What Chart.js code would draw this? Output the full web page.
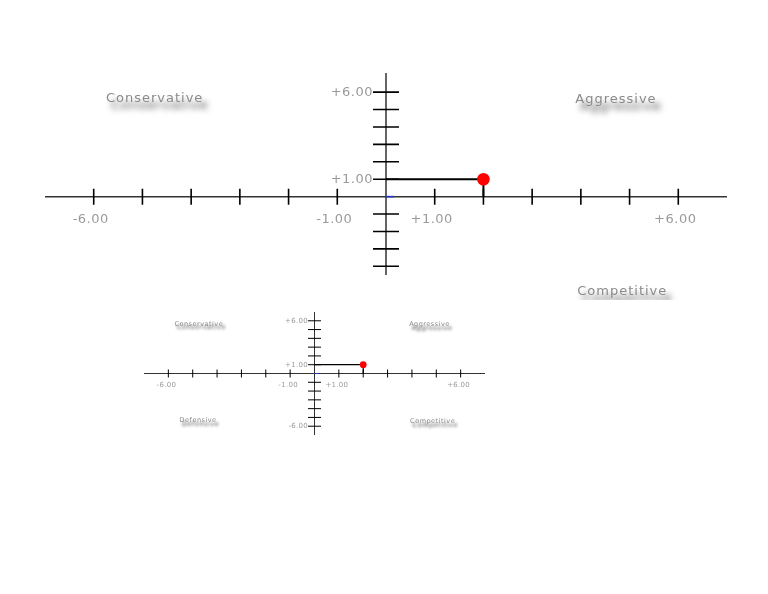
<!DOCTYPE html>
<html>
<head>
<meta charset="utf-8">
<title>SPACE matrix</title>
<script src="https://cdn.jsdelivr.net/npm/chart.js@4.4.1/dist/chart.umd.min.js"></script>
<style>
  body { margin: 0; background: #fff; }
  #page { position: relative; width: 768px; height: 594px; overflow: hidden; }
  canvas { position: absolute; left: 0; }
  #big { top: 0; }
  #small { top: 300px; }
</style>
</head>
<body>
<div id="page">
  <canvas id="big" width="768" height="300"></canvas>
  <canvas id="small" width="768" height="294"></canvas>
</div>
<script>
// Data
const quadrants = ['Conservative', 'Aggressive', 'Defensive', 'Competitive'];
const pointX = [2];   // horizontal score
const pointY = [1];   // vertical score
const tickValues = [-6, -5, -4, -3, -2, -1, 1, 2, 3, 4, 5, 6];
const labelledX = [-6, -1, 1, 6];
const labelledY = [6, 1, -6];

// where each quadrant name sits, in axis units
const quadrantAnchors = {
    Conservative: [-4.75, 5.65],
    Aggressive: [4.72, 5.55],
    Defensive: [-4.78, -5.35],
    Competitive: [4.85, -5.45]
};

function fmt(v) {
    return (v > 0 ? '+' : '') + v.toFixed(2);
}

// draws the cross-shaped axes through the origin, using the chart scales
const crossAxes = {
    id: 'crossAxes',
    beforeDatasetsDraw(chart, args, o) {
        const ctx = chart.ctx;
        const xs = chart.scales.x, ys = chart.scales.y;
        const area = chart.chartArea;
        const ox = xs.getPixelForValue(0), oy = ys.getPixelForValue(0);
        ctx.save();

        // axis lines
        ctx.strokeStyle = '#333';
        ctx.lineWidth = o.axisWidth;
        ctx.beginPath();
        ctx.moveTo(area.left, oy); ctx.lineTo(area.right, oy);
        ctx.moveTo(ox, area.top); ctx.lineTo(ox, area.bottom);
        ctx.stroke();

        // tick marks
        ctx.strokeStyle = '#000';
        ctx.lineWidth = o.tickWidth;
        ctx.beginPath();
        tickValues.forEach(v => {
            const px = xs.getPixelForValue(v);
            ctx.moveTo(px, oy - o.xTick); ctx.lineTo(px, oy + o.xTick);
            if (v >= ys.min && v <= ys.max) {
                const py = ys.getPixelForValue(v);
                ctx.moveTo(ox - o.yTick, py); ctx.lineTo(ox + o.yTick, py);
            }
        });
        ctx.stroke();

        // little blue mark at the origin
        ctx.strokeStyle = '#2233cc';
        ctx.lineWidth = o.tickWidth;
        ctx.beginPath();
        ctx.moveTo(ox, oy); ctx.lineTo(ox + o.xTick, oy);
        ctx.stroke();

        // tick labels
        ctx.fillStyle = '#9a9a9a';
        ctx.font = o.tickFont + 'px "DejaVu Sans", Verdana, sans-serif';
        ctx.letterSpacing = o.tickSpacing + 'px';
        ctx.textAlign = 'center';
        ctx.textBaseline = 'middle';
        labelledX.forEach(v => {
            ctx.fillText(fmt(v), xs.getPixelForValue(v) + o.xLabelShift, oy + o.xLabelGap);
        });
        ctx.textAlign = 'right';
        labelledY.forEach(v => {
            if (v < ys.min || v > ys.max) return;
            ctx.fillText(fmt(v), ox - o.yTick, ys.getPixelForValue(v));
        });

        // quadrant names with a soft drop shadow
        ctx.font = o.quadFont + 'px "DejaVu Sans", Verdana, sans-serif';
        ctx.letterSpacing = o.quadSpacing + 'px';
        ctx.textAlign = 'center';
        ctx.fillStyle = '#8a8a8a';
        ctx.shadowColor = 'rgba(0,0,0,0.8)';
        ctx.shadowBlur = o.shadowBlur;
        ctx.shadowOffsetX = o.shadowX;
        ctx.shadowOffsetY = o.shadowY;
        quadrants.forEach(name => {
            if (o.hide.includes(name)) return;
            const a = quadrantAnchors[name];
            ctx.fillText(name, xs.getPixelForValue(a[0]), ys.getPixelForValue(a[1]));
        });
        ctx.restore();
    }
};

function makeChart(id, opt) {
    const pts = pointX.map((x, i) => ({ x: x, y: pointY[i] }));
    const guide = [
        { x: 0, y: pointY[0] },
        { x: pointX[0], y: pointY[0] },
        { x: pointX[0], y: 0 }
    ];
    return new Chart(document.getElementById(id), {
        type: 'scatter',
        data: {
            datasets: [
                {
                    data: pts,
                    pointRadius: opt.radius,
                    pointHoverRadius: opt.radius,
                    backgroundColor: '#ff0000',
                    borderColor: '#ff0000',
                    borderWidth: 0
                },
                {
                    data: guide,
                    showLine: true,
                    pointRadius: 0,
                    borderColor: '#000',
                    borderWidth: opt.lineWidth,
                    tension: 0
                }
            ]
        },
        options: {
            responsive: false,
            animation: false,
            events: [],
            layout: { padding: opt.padding },
            plugins: {
                legend: { display: false },
                tooltip: { enabled: false },
                crossAxes: opt.axes
            },
            scales: {
                x: { type: 'linear', min: -7, max: 7, display: false },
                y: { type: 'linear', min: opt.yMin, max: opt.yMax, display: false }
            }
        },
        plugins: [crossAxes]
    });
}

makeChart('big', {
    padding: { left: 45, right: 41, top: 73, bottom: 25 },
    yMin: -4.5, yMax: 7.1,
    radius: 6.3, lineWidth: 2,
    axes: {
        axisWidth: 1.5, tickWidth: 1.6, xTick: 8, yTick: 13,
        tickFont: 13, tickSpacing: 0.5, xLabelShift: -3, xLabelGap: 23,
        quadFont: 13, quadSpacing: 1, shadowBlur: 6, shadowX: 5, shadowY: 7,
        hide: ['Defensive']
    }
});

makeChart('small', {
    padding: { left: 144, right: 283, top: 12, bottom: 159 },
    yMin: -7, yMax: 7,
    radius: 3.4, lineWidth: 1.2,
    axes: {
        axisWidth: 1, tickWidth: 1, xTick: 4, yTick: 6.5,
        tickFont: 7, tickSpacing: 0.3, xLabelShift: -2, xLabelGap: 11.5,
        quadFont: 6.5, quadSpacing: 0.5, shadowBlur: 3, shadowX: 2.5, shadowY: 3.5,
        hide: []
    }
});
</script>
</body>
</html>
